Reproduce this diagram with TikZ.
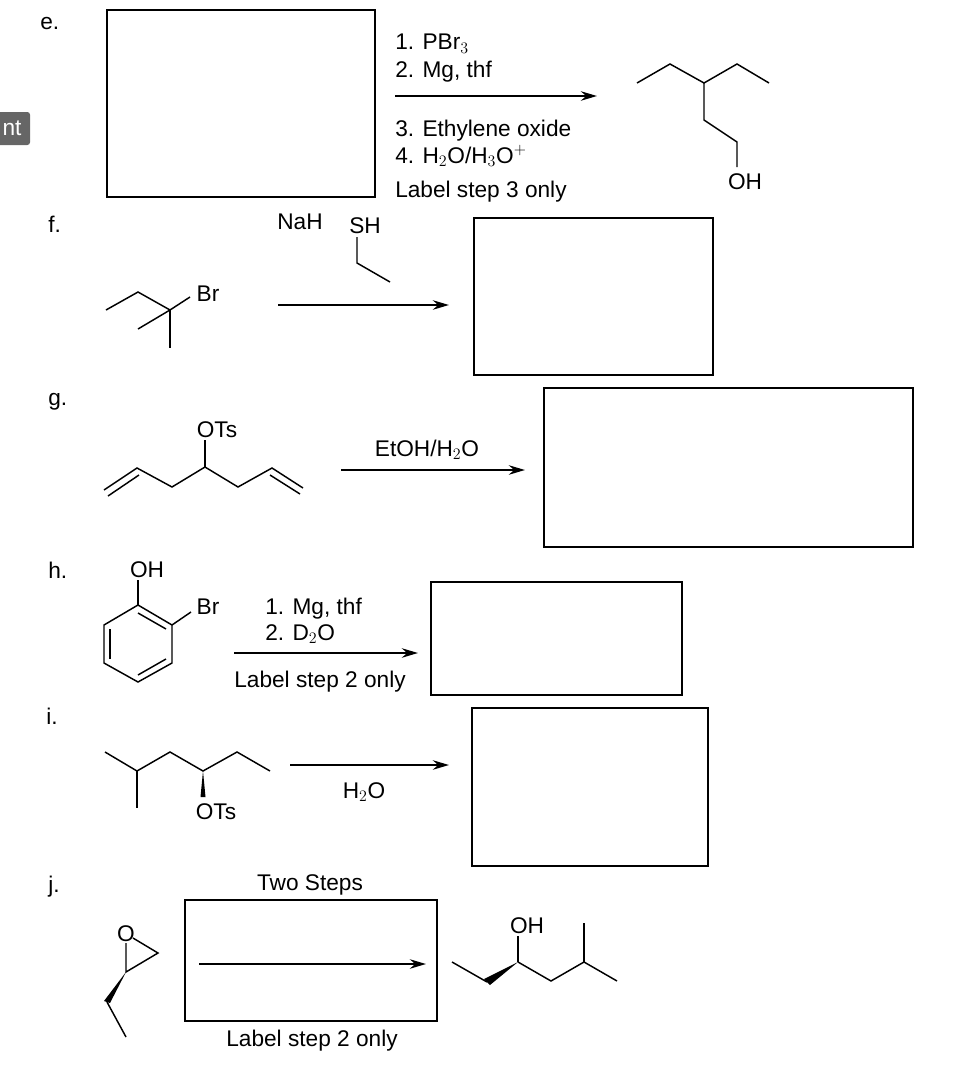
\documentclass[tikz,border=0pt]{standalone}
\usepackage{fontspec}
\setmainfont{Liberation Sans}
\usetikzlibrary{arrows.meta}
\begin{document}
\begin{tikzpicture}[x=0.75pt,y=-0.75pt,
  txt/.style={inner sep=0pt,font=\fontsize{17}{20}\selectfont},
  lbl/.style={txt,anchor=base west},
  bond/.style={line width=1.1pt},
  box/.style={line width=1.5pt},
  rxn/.style={line width=2.2pt,-{Stealth[length=12pt,width=7pt]}},
  wedge/.style={fill=black}]
\useasboundingbox (0,0) rectangle (970,1088);
% side tab
\fill[gray!80!black,rounded corners=2pt] (-5,112) rectangle (30,145);
\node[txt,text=white] (tab) at (12,128) {nt};
% ---------- e
\node[lbl] (le) at (40,30) {e.};
\draw[box] (107,10) rectangle (375,197);
\node[lbl] (e1) at (395,50) {1. PBr$_3$};
\node[lbl] (e2) at (395,78) {2. Mg, thf};
\coordinate (ea) at (395,96); \coordinate (eb) at (597,96);
\draw[rxn] (ea) -- (eb);
\node[lbl] (e3) at (395,136) {3. Ethylene oxide};
\node[lbl] (e4) at (395,163) {4. H$_2$O/H$_3$O$^+$};
\node[lbl] (e5) at (395,197) {Label step 3 only};
\draw[bond] (637,83) -- (670,64) -- (704,83) -- (737,64) -- (769,83);
\draw[bond] (704,83) -- (704,120) -- (737,142) -- (737,167);
\node[txt] (eoh) at (745,182) {OH};
% ---------- f
\node[lbl] (lf) at (48,232) {f.};
\node[txt] (nah) at (300,222) {NaH};
\node[txt] (sh) at (365,226) {SH};
\draw[bond] (357,237) -- (357,263) -- (390,282);
\draw[bond] (106,310) -- (138,292) -- (170,310) -- (190,297);
\draw[bond] (170,310) -- (170,348); \draw[bond] (170,310) -- (138,329);
\node[txt] (fbr) at (208,294) {Br};
\coordinate (fa) at (278,305); \coordinate (fb) at (449,305);
\draw[rxn] (fa) -- (fb);
\draw[box] (474,218) rectangle (713,375);
% ---------- g
\node[lbl] (lg) at (48,405) {g.};
\draw[bond] (104,490) -- (137,468) -- (172,487) -- (205,467) -- (238,487) -- (272,468) -- (303,488);
\draw[bond] (108,496) -- (139,475);
\draw[bond] (270,475) -- (300,494);
\draw[bond] (205,467) -- (205,440);
\node[txt] (gots) at (217,430) {OTs};
\node[txt] (getoh) at (427,450) {EtOH/H$_2$O};
\coordinate (ga) at (341,470); \coordinate (gb) at (525,470);
\draw[rxn] (ga) -- (gb);
\draw[box] (544,388) rectangle (913,547);
% ---------- h
\node[lbl] (lh) at (48,578) {h.};
\draw[bond] (138,605) -- (172,625) -- (172,663) -- (138,682) -- (104,663) -- (104,625) -- cycle;
\draw[bond] (138,613) -- (166,629);
\draw[bond] (166,659) -- (138,675);
\draw[bond] (110,629) -- (110,659);
\draw[bond] (138,605) -- (138,580);
\node[txt] (hoh) at (147,570) {OH};
\draw[bond] (172,625) -- (191,612);
\node[txt] (hbr) at (208,607) {Br};
\node[lbl] (h1) at (265,614) {1. Mg, thf};
\node[lbl] (h2) at (265,640) {2. D$_2$O};
\coordinate (ha) at (234,653); \coordinate (hb) at (418,653);
\draw[rxn] (ha) -- (hb);
\node[txt] (h3) at (320,682) {Label step 2 only};
\draw[box] (431,582) rectangle (682,695);
% ---------- i
\node[lbl] (li) at (46,724) {i.};
\draw[bond] (105,752) -- (137,771) -- (170,752) -- (203,771) -- (237,752) -- (270,771);
\draw[bond] (137,771) -- (137,808);
\fill[wedge] (203,771) -- (200.5,797) -- (205.5,797) -- cycle;
\node[txt] (iots) at (216,812) {OTs};
\coordinate (ia) at (290,765); \coordinate (ib) at (449,765);
\draw[rxn] (ia) -- (ib);
\node[txt] (ih2o) at (364,792) {H$_2$O};
\draw[box] (472,708) rectangle (708,866);
% ---------- j
\node[lbl] (lj) at (48,892) {j.};
\node[txt] (two) at (310,885) {Two Steps};
\draw[box] (185,900) rectangle (437,1021);
\coordinate (ja) at (199,964); \coordinate (jb) at (426,964);
\draw[rxn] (ja) -- (jb);
\node[txt] (jlab) at (312,1041) {Label step 2 only};
\node[txt] (jo) at (126,934) {O};
\draw[bond] (126,943) -- (126,972) -- (158,953) -- (133,938);
\fill[wedge] (126,972) -- (104,1001) -- (110,1003) -- cycle;
\draw[bond] (107,1002) -- (126,1037);
\fill[wedge] (518,962) -- (484,979) -- (490,985) -- cycle;
\draw[bond] (452,962) -- (487,982);
\draw[bond] (518,962) -- (551,981) -- (584,962) -- (617,981);
\draw[bond] (584,962) -- (584,923);
\draw[bond] (518,962) -- (518,936);
\node[txt] (joh) at (527,926) {OH};
\end{tikzpicture}
\end{document}
